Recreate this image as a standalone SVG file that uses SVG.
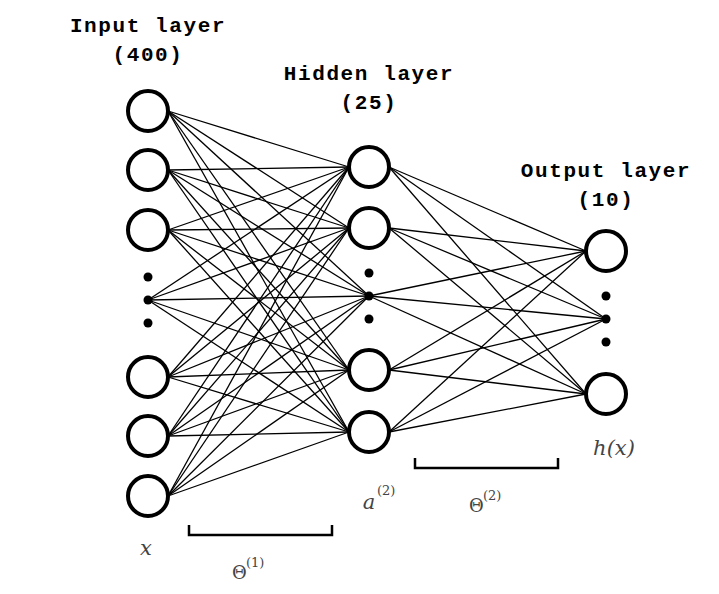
<svg xmlns="http://www.w3.org/2000/svg" width="719" height="594" viewBox="0 0 719 594">
<style>
.n{fill:#fff;stroke:#000;stroke-width:4}
.e line{stroke:#000;stroke-width:1.3}
.t{font-family:"Liberation Mono",monospace;font-weight:bold;font-size:21px;letter-spacing:1.6px;text-anchor:middle}
.m{font-family:"DejaVu Serif","Liberation Serif",serif;font-style:italic;fill:#444;font-size:21px;text-anchor:middle}
.g{font-family:"DejaVu Serif","Liberation Serif",serif;fill:#444;font-size:18px}
.s{font-size:13px}
.b{fill:none;stroke:#000;stroke-width:2.5}
</style>
<rect width="719" height="594" fill="#fff"/>
<g id="connectors" class="e">
<line x1="168" y1="111" x2="349" y2="167"/><line x1="168" y1="111" x2="349" y2="228"/><line x1="168" y1="111" x2="369" y2="296"/><line x1="168" y1="111" x2="349" y2="370"/><line x1="168" y1="111" x2="349" y2="432"/>
<line x1="168" y1="170" x2="349" y2="167"/><line x1="168" y1="170" x2="349" y2="228"/><line x1="168" y1="170" x2="369" y2="296"/><line x1="168" y1="170" x2="349" y2="370"/><line x1="168" y1="170" x2="349" y2="432"/>
<line x1="168" y1="230" x2="349" y2="167"/><line x1="168" y1="230" x2="349" y2="228"/><line x1="168" y1="230" x2="369" y2="296"/><line x1="168" y1="230" x2="349" y2="370"/><line x1="168" y1="230" x2="349" y2="432"/>
<line x1="148" y1="300" x2="349" y2="167"/><line x1="148" y1="300" x2="349" y2="228"/><line x1="148" y1="300" x2="369" y2="296"/><line x1="148" y1="300" x2="349" y2="370"/><line x1="148" y1="300" x2="349" y2="432"/>
<line x1="168" y1="377" x2="349" y2="167"/><line x1="168" y1="377" x2="349" y2="228"/><line x1="168" y1="377" x2="369" y2="296"/><line x1="168" y1="377" x2="349" y2="370"/><line x1="168" y1="377" x2="349" y2="432"/>
<line x1="168" y1="436" x2="349" y2="167"/><line x1="168" y1="436" x2="349" y2="228"/><line x1="168" y1="436" x2="369" y2="296"/><line x1="168" y1="436" x2="349" y2="370"/><line x1="168" y1="436" x2="349" y2="432"/>
<line x1="168" y1="496" x2="349" y2="167"/><line x1="168" y1="496" x2="349" y2="228"/><line x1="168" y1="496" x2="369" y2="296"/><line x1="168" y1="496" x2="349" y2="370"/><line x1="168" y1="496" x2="349" y2="432"/>
<line x1="389" y1="167" x2="586" y2="251"/><line x1="389" y1="167" x2="606" y2="319"/><line x1="389" y1="167" x2="586" y2="394"/>
<line x1="389" y1="228" x2="586" y2="251"/><line x1="389" y1="228" x2="606" y2="319"/><line x1="389" y1="228" x2="586" y2="394"/>
<line x1="369" y1="296" x2="586" y2="251"/><line x1="369" y1="296" x2="606" y2="319"/><line x1="369" y1="296" x2="586" y2="394"/>
<line x1="389" y1="370" x2="586" y2="251"/><line x1="389" y1="370" x2="606" y2="319"/><line x1="389" y1="370" x2="586" y2="394"/>
<line x1="389" y1="432" x2="586" y2="251"/><line x1="389" y1="432" x2="606" y2="319"/><line x1="389" y1="432" x2="586" y2="394"/>
</g>
<g id="input-layer">
<circle class="n" cx="148" cy="111" r="20"/><circle class="n" cx="148" cy="170" r="20"/><circle class="n" cx="148" cy="230" r="20"/>
<circle cx="148" cy="277" r="4.5"/><circle cx="148" cy="300" r="4.5"/><circle cx="148" cy="323" r="4.5"/>
<circle class="n" cx="148" cy="377" r="20"/><circle class="n" cx="148" cy="436" r="20"/><circle class="n" cx="148" cy="496" r="20"/>
<text class="t" x="148" y="32">Input layer</text><text class="t" x="148" y="61">(400)</text>
<text class="m" x="146" y="555">x</text>
</g>
<g id="hidden-layer">
<circle class="n" cx="369" cy="167" r="20"/><circle class="n" cx="369" cy="228" r="20"/>
<circle cx="369" cy="273" r="4.5"/><circle cx="369" cy="296" r="4.5"/><circle cx="369" cy="319" r="4.5"/>
<circle class="n" cx="369" cy="370" r="20"/><circle class="n" cx="369" cy="432" r="20"/>
<text class="t" x="369" y="80">Hidden layer</text><text class="t" x="369" y="109">(25)</text>
<text class="m" x="369" y="509">a</text><text class="g s" x="377" y="495">(2)</text>
</g>
<g id="output-layer">
<circle class="n" cx="606" cy="251" r="20"/>
<circle cx="606" cy="296" r="4.5"/><circle cx="606" cy="319" r="4.5"/><circle cx="606" cy="342" r="4.5"/>
<circle class="n" cx="606" cy="394" r="20"/>
<text class="t" x="606" y="177">Output layer</text><text class="t" x="606" y="206">(10)</text>
<text class="m" x="614" y="455">h(x)</text>
</g>
<g id="theta1">
<path class="b" d="M189 525V535H332V525"/>
<text class="g" x="232" y="579">Θ</text><text class="g s" x="246" y="567">(1)</text>
</g>
<g id="theta2">
<path class="b" d="M415 458V468H558V458"/>
<text class="g" x="469" y="512">Θ</text><text class="g s" x="483" y="500">(2)</text>
</g>
</svg>
